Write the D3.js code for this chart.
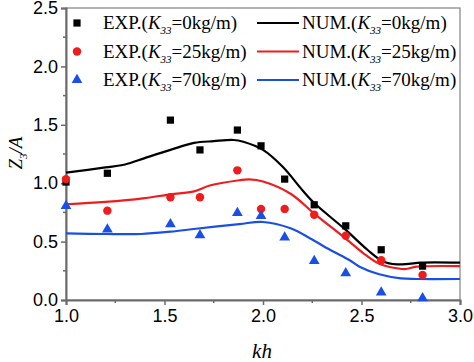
<!DOCTYPE html>
<html>
<head>
<meta charset="utf-8">
<script src="https://cdn.jsdelivr.net/npm/d3@7"></script>
<style>
  body { margin: 0; background: #fff; }
  svg { display: block; }
</style>
</head>
<body>
<svg id="chart" width="474" height="362"></svg>
<script>
// measured kh values of the experiments
const expX = [1.0, 1.21, 1.53, 1.68, 1.87, 1.99, 2.11, 2.26, 2.42, 2.60, 2.81];
const exp0  = [1.01, 1.085, 1.54, 1.285, 1.455, 1.32, 1.035, 0.815, 0.635, 0.43, 0.29];
const exp25 = [1.035, 0.765, 0.88, 0.88, 1.11, 0.78, 0.78, 0.73, 0.55, 0.34, 0.215];
const exp70 = [0.805, 0.605, 0.65, 0.555, 0.745, 0.72, 0.535, 0.335, 0.23, 0.065, 0.015];

// numerical curves, [kh, Z3/A]
const num0 = [[1.0,1.09],[1.2,1.135],[1.3,1.16],[1.4,1.215],[1.53,1.285],[1.65,1.345],[1.75,1.36],
  [1.85,1.37],[1.9,1.355],[2.0,1.285],[2.1,1.14],[2.2,0.94],[2.26,0.83],[2.42,0.60],[2.53,0.43],
  [2.61,0.33],[2.68,0.305],[2.74,0.31],[2.8,0.32],[3.0,0.32]];
const num25 = [[1.0,0.82],[1.2,0.84],[1.39,0.87],[1.53,0.905],[1.65,0.93],[1.73,0.98],[1.88,1.025],
  [1.93,1.033],[2.0,1.015],[2.14,0.91],[2.26,0.74],[2.42,0.525],[2.51,0.40],[2.59,0.31],[2.65,0.28],
  [2.72,0.265],[2.78,0.285],[3.0,0.29]];
const num70 = [[1.0,0.57],[1.2,0.565],[1.38,0.565],[1.53,0.585],[1.66,0.61],[1.88,0.65],[2.0,0.668],
  [2.14,0.614],[2.24,0.527],[2.34,0.43],[2.44,0.34],[2.49,0.285],[2.59,0.22],[2.70,0.185],[2.78,0.18],[3.0,0.18]];

const xTicks = [1.0, 1.5, 2.0, 2.5, 3.0];
const yTicks = [0.0, 0.5, 1.0, 1.5, 2.0, 2.5];
const kValues = ["0", "25", "70"];

const colors = ["#000000", "#ee1c1c", "#1a4fe6"];
const shapes = [d3.symbolSquare, d3.symbolCircle, d3.symbolTriangle];
const symSize = [52, 56, 50];

const serif = "'Liberation Serif', 'Times New Roman', serif";
const sans = "'Liberation Sans', Arial, sans-serif";

const svg = d3.select("#chart");
const margin = {left: 66, right: 14, top: 8, bottom: 62};
const width = 474, height = 362;

const x = d3.scaleLinear().domain([1, 3]).range([margin.left, width - margin.right]);
const y = d3.scaleLinear().domain([0, 2.5]).range([height - margin.bottom, margin.top]);

const axisColor = "#6b6b6b";

// frame
svg.append("rect")
  .attr("x", x(1)).attr("y", y(2.5))
  .attr("width", x(3) - x(1)).attr("height", y(0) - y(2.5))
  .attr("fill", "none").attr("stroke", axisColor).attr("stroke-width", 1);

// minor ticks
const xMinor = d3.range(1.25, 3, 0.5);
const yMinor = d3.range(0.25, 2.5, 0.5);
svg.selectAll(".xminor").data(xMinor).join("line")
  .attr("x1", d => x(d)).attr("x2", d => x(d))
  .attr("y1", y(0)).attr("y2", y(0) + 3)
  .attr("stroke", axisColor).attr("stroke-width", 1.5);
svg.selectAll(".yminor").data(yMinor).join("line")
  .attr("y1", d => y(d)).attr("y2", d => y(d))
  .attr("x1", x(1)).attr("x2", x(1) - 3)
  .attr("stroke", axisColor).attr("stroke-width", 1.5);

const xAxis = svg.append("g")
  .attr("transform", `translate(0,${y(0)})`)
  .call(d3.axisBottom(x).tickValues(xTicks).tickFormat(d3.format(".1f")).tickSize(5).tickPadding(4));
const yAxis = svg.append("g")
  .attr("transform", `translate(${x(1)},0)`)
  .call(d3.axisLeft(y).tickValues(yTicks).tickFormat(d3.format(".1f")).tickSize(5).tickPadding(3));

[xAxis, yAxis].forEach(a => {
  a.select(".domain").attr("stroke", axisColor).attr("stroke-width", 2);
  a.selectAll(".tick line").attr("stroke", axisColor).attr("stroke-width", 1.5);
  a.selectAll(".tick text")
    .attr("fill", "#000")
    .style("font-family", sans)
    .style("font-size", "18px");
});

// numerical lines
const line = d3.line()
  .curve(d3.curveCatmullRom.alpha(0.5))
  .x(d => x(d[0]))
  .y(d => y(d[1]));

[num0, num25, num70].forEach((s, i) => {
  svg.append("path")
    .attr("d", line(s))
    .attr("fill", "none")
    .attr("stroke", colors[i])
    .attr("stroke-width", 2.2);
});

// experimental points
[exp0, exp25, exp70].forEach((s, i) => {
  svg.append("g").selectAll("path")
    .data(s)
    .join("path")
    .attr("transform", (d, j) => `translate(${x(expX[j])},${y(d)})`)
    .attr("d", d3.symbol().type(shapes[i]).size(symSize[i]))
    .attr("fill", colors[i]);
});

// legend
const legend = svg.append("g");
kValues.forEach((k, i) => {
  const ly = 23 + i * 28.5;
  legend.append("path")
    .attr("transform", `translate(77,${ly})`)
    .attr("d", d3.symbol().type(shapes[i]).size(symSize[i]))
    .attr("fill", colors[i]);

  legend.append("line")
    .attr("x1", 257).attr("x2", 299)
    .attr("y1", ly).attr("y2", ly)
    .attr("stroke", colors[i]).attr("stroke-width", 2.2);

  [["EXP.", 103], ["NUM.", 302]].forEach(([lab, lx]) => {
    const t = legend.append("text")
      .attr("x", lx).attr("y", ly + 6)
      .style("font-family", serif)
      .style("font-size", "19px")
      .attr("fill", "#000");
    t.append("tspan").text(lab + "(");
    t.append("tspan").style("font-style", "italic").text("K");
    t.append("tspan").style("font-style", "italic").style("font-size", "11px").attr("dy", 5).text("33");
    t.append("tspan").attr("dy", -5).text("=" + k + "kg/m)");
  });
});

// axis titles
svg.append("text")
  .attr("x", 262).attr("y", 358)
  .attr("text-anchor", "middle")
  .style("font-family", serif)
  .style("font-style", "italic")
  .style("font-size", "21px")
  .text("kh");

const yt = svg.append("text")
  .attr("transform", `translate(22,153) rotate(-90)`)
  .attr("text-anchor", "middle")
  .style("font-family", serif)
  .style("font-style", "italic")
  .style("font-size", "19px");
yt.append("tspan").text("Z");
yt.append("tspan").style("font-size", "11px").attr("dy", 5).text("3");
yt.append("tspan").attr("dy", -5).text("/A");
</script>
</body>
</html>
